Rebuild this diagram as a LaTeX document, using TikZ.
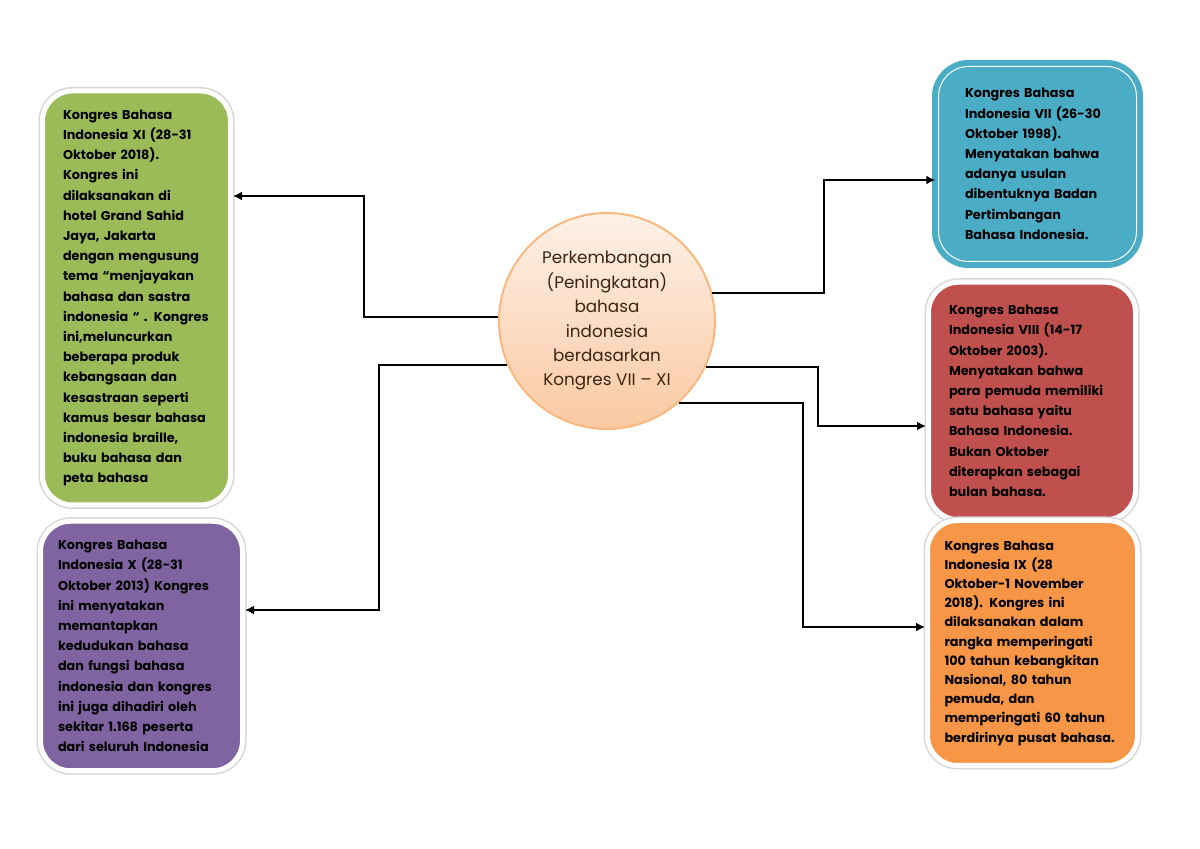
\documentclass[tikz,border=0pt]{standalone}
\usepackage{fontspec}
\setmainfont{Poppins}
\usepackage{tikz}
\usetikzlibrary{arrows.meta}
\definecolor{hijau}{HTML}{9BBB59}
\definecolor{ungu}{HTML}{8064A2}
\definecolor{biru}{HTML}{4BACC6}
\definecolor{merah}{HTML}{C0504D}
\definecolor{oranye}{HTML}{F79646}
\definecolor{peachatas}{HTML}{FDF1E7}
\definecolor{peachbawah}{HTML}{FAC9A2}
\definecolor{peachgaris}{HTML}{F9B880}
\definecolor{coklat}{HTML}{3E2410}
\newcommand{\hurufkotak}[1]{\bfseries\fontsize{6.4}{#1}\selectfont\hyphenpenalty=10000\relax}
\tikzset{
kotak/.style={rectangle,rounded corners=15pt,draw=white,line width=2.5pt,
  preaction={draw=black!16,line width=4pt},
  align=left,inner sep=0pt,text=black,
  font=\hurufkotak{10.1}},
kotakbiru/.style={rectangle,rounded corners=15pt,fill=biru,draw=biru,
  double=white,double distance=0.5pt,line width=3pt,
  align=left,inner sep=0pt,text=black,
  font=\hurufkotak{10.1}},
pusat/.style={circle,draw=peachgaris,line width=1pt,
  top color=peachatas,bottom color=peachbawah,
  minimum size=108pt,inner sep=0pt,align=center,text=coklat,
  font=\fontsize{8.4}{12.2}\selectfont},
panah/.style={line width=1pt,draw=black,-{Latex[length=4.5pt,width=4.5pt]}},
}

\begin{document}
\begin{tikzpicture}[x=0.5pt,y=-0.5pt]
\useasboundingbox (0,0) rectangle (1200,849);
\node[pusat] (inti) at (607,321)
  {Perkembangan\\(Peningkatan)\\bahasa\\indonesia\\berdasarkan\\Kongres VII -- XI};
% kiri
\node[kotak,fill=hijau,minimum width=94pt,minimum height=207pt,text width=73.5pt]
  (kbixi) at (136.5,298) {Kongres Bahasa\\
Indonesia XI (28-31\\
Oktober 2018).\\
Kongres ini\\
dilaksanakan di\\
hotel Grand Sahid\\
Jaya, Jakarta\\
dengan mengusung\\
tema “menjayakan\\
bahasa dan sastra\\
indonesia “ . Kongres\\
ini,meluncurkan\\
beberapa produk\\
kebangsaan dan\\
kesastraan seperti\\
kamus besar bahasa\\
indonesia braille,\\
buku bahasa dan\\
peta bahasa};
\node[kotak,fill=ungu,minimum width=101pt,minimum height=124.75pt,text width=83.5pt]
  (kbix) at (141.5,646) {Kongres Bahasa\\
Indonesia X (28-31\\
Oktober 2013) Kongres\\
ini menyatakan\\
memantapkan\\
kedudukan bahasa\\
dan fungsi bahasa\\
indonesia dan kongres\\
ini juga dihadiri oleh\\
sekitar 1.168 peserta\\
dari seluruh Indonesia};
% kanan
\node[kotakbiru,minimum width=99pt,minimum height=97.5pt,text width=72.5pt,outer sep=1.6pt]
  (kbvii) at (1037.5,164) {Kongres Bahasa\\
Indonesia VII (26-30\\
Oktober 1998).\\
Menyatakan bahwa\\
adanya usulan\\
dibentuknya Badan\\
Pertimbangan\\
Bahasa Indonesia.};
\node[kotak,fill=merah,minimum width=103.5pt,minimum height=118.75pt,text width=83pt]
  (kbviii) at (1032,401) {Kongres Bahasa\\
Indonesia VIII (14-17\\
Oktober 2003).\\
Menyatakan bahwa\\
para pemuda memiliki\\
satu bahasa yaitu\\
Bahasa Indonesia.\\
Bukan Oktober\\
diterapkan sebagai\\
bulan bahasa.};
\node[kotak,fill=oranye,minimum width=105pt,minimum height=122.5pt,text width=88pt,
  font=\hurufkotak{9.6}]
  (kbix2) at (1032.5,643) {Kongres Bahasa\\
Indonesia IX (28\\
Oktober-1 November\\
2018). Kongres ini\\
dilaksanakan dalam\\
rangka memperingati\\
100 tahun kebangkitan\\
Nasional, 80 tahun\\
pemuda, dan\\
memperingati 60 tahun\\
berdirinya pusat bahasa.};
% garis
\draw[panah] (inti.178.4) -| (364,196) -- (kbixi.east |- 0,196);
\draw[panah] (inti.204.7) -| (379,610) -- (kbix.east |- 0,610);
\draw[panah] (inti.15.3) -| (824,180) -- (kbvii.west |- 0,180);
\draw[panah] (inti.335.8) -| (818,426) -- (kbviii.west |- 0,426);
\draw[panah] (inti.311.5) -| (803,627) -- (kbix2.west |- 0,627);
\end{tikzpicture}
\end{document}
